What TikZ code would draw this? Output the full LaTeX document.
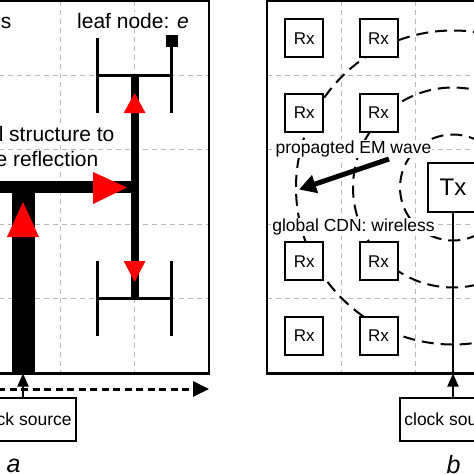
\documentclass[tikz,border=0pt]{standalone}
\usepackage{fontspec}
\setmainfont{Liberation Sans}
\usetikzlibrary{arrows.meta}
\begin{document}
\begin{tikzpicture}[x=1pt,y=-1pt,
  grid/.style={gray!55,line width=0.9pt,dash pattern=on 5pt off 4pt},
  panel/.style={line width=2.8pt},
  wave/.style={line width=2pt,dash pattern=on 12pt off 7pt},
  hline/.style={line width=3pt},
  redtri/.style={fill=red,draw=none},
  txtL/.style={inner sep=1pt,fill=white,font=\fontsize{21}{25}\selectfont},
  txtR/.style={inner sep=1pt,fill=white,font=\fontsize{17.5}{21}\selectfont},
  rxbox/.style={draw,fill=white,line width=2pt,minimum width=38pt,minimum height=38pt,inner sep=0pt,font=\fontsize{17}{20}\selectfont},
  clkbox/.style={draw,fill=white,line width=2.5pt,minimum width=106pt,minimum height=43pt,inner sep=0pt,font=\fontsize{17.5}{21}\selectfont},
  feed/.style={line width=2pt,-{Triangle[length=13pt,width=11pt]}},
  sublabel/.style={inner sep=0pt,font=\fontsize{25}{30}\selectfont\itshape}
]
\useasboundingbox (0,0) rectangle (474,474);
\clip (0,0) rectangle (474,474);
% ---------- grids ----------
\foreach \k in {1,...,4} {
  \draw[grid] ({-163+74.4*\k},1) -- ({-163+74.4*\k},373.5);
  \draw[grid] (-163,{1+74.4*\k}) -- (209,{1+74.4*\k});
  \draw[grid] ({267+74.4*\k},1) -- ({267+74.4*\k},373.5);
  \draw[grid] (267,{1+74.4*\k}) -- (639,{1+74.4*\k});
}
% ---------- panel a: H-tree ----------
\draw[line width=23pt] (23,187.2) -- (23,373.5);
\draw[line width=12pt] (-88.6,187.2) -- (134.6,187.2);
\draw[line width=8pt] (134.6,75.4) -- (134.6,298.6);
\draw[hline] (97.4,75.4) -- (171.8,75.4);
\draw[hline] (97.4,38.2) -- (97.4,112.6);
\draw[hline] (171.8,38.2) -- (171.8,112.6);
\draw[hline] (97.4,298.6) -- (171.8,298.6);
\draw[hline] (97.4,261.4) -- (97.4,335.8);
\draw[hline] (171.8,261.4) -- (171.8,335.8);
\node[fill=black,minimum size=12pt,inner sep=0pt] (leaf) at (171.8,40.5) {};
% red direction markers
\fill[redtri] (93,172) -- (127,187.5) -- (93,204) -- cycle;
\fill[redtri] (23,202) -- (39,237) -- (7,237) -- cycle;
\fill[redtri] (134.6,93) -- (145.5,113) -- (123.7,113) -- cycle;
\fill[redtri] (123.7,261) -- (145.5,261) -- (134.6,282) -- cycle;
% texts panel a
\node[txtL,anchor=base east] (ts) at (12.5,28) {s};
\node[txtL,anchor=base west] (leaflbl) at (76,28) {leaf node: \textit{e}};
\node[txtL,anchor=base east] (t1) at (115.5,141) {l structure to};
\node[txtL,anchor=base east] (t2) at (99.5,166) {e reflection};
\draw[panel] (-163,1) rectangle (209,373.5);
% bottom dashed arrow
\coordinate (dA) at (-163,389);
\coordinate (dB) at (209,389);
\draw[line width=3pt,dash pattern=on 7pt off 4.5pt,-{Triangle[length=16pt,width=15pt]}] (dA) -- (dB);
% clock source a
\node[clkbox] (clkA) at (23,419.5) {clock source};
\coordinate (bA) at (23,373.5);
\draw[feed] (clkA.north) -- (bA);
\node[sublabel,anchor=base] (la) at (13.5,472) {a};
% ---------- panel b ----------
\coordinate (ctr) at (453,187.5);
\draw[wave] (ctr) circle[radius=53];
\draw[wave] (ctr) circle[radius=100];
\draw[wave] (ctr) circle[radius=157];
\draw[panel] (267,1) rectangle (639,373.5);
\foreach \i/\x in {0/304.2,1/378.6} {
  \foreach \j/\y in {0/38.2,1/112.6,3/261.4,4/335.8} {
    \node[rxbox] (rx\i\j) at (\x,\y) {Rx};
  }
}
\node[clkbox] (clkB) at (453,419.5) {clock source};
\coordinate (bB) at (453,373.5);
\node[draw,fill=white,line width=2pt,minimum width=50pt,minimum height=49pt,inner sep=0pt,font=\fontsize{24}{28}\selectfont] (tx) at (ctr) {Tx};
\draw[line width=2pt] (bB) -- (tx.south);
\draw[feed] (clkB.north) -- (bB);
\node[txtR,anchor=base] (emlbl) at (353.5,153.3) {propagted EM wave};
\node[txtR,anchor=base] (cdnlbl) at (353.5,231.5) {global CDN: wireless};
\coordinate (emA) at (389,159);
\coordinate (emB) at (299,189.5);
\draw[line width=5pt,-{Triangle[length=17pt,width=18pt]}] (emA) -- (emB);
\node[sublabel,anchor=base] (lb) at (453.5,473) {b};
\end{tikzpicture}
\end{document}
